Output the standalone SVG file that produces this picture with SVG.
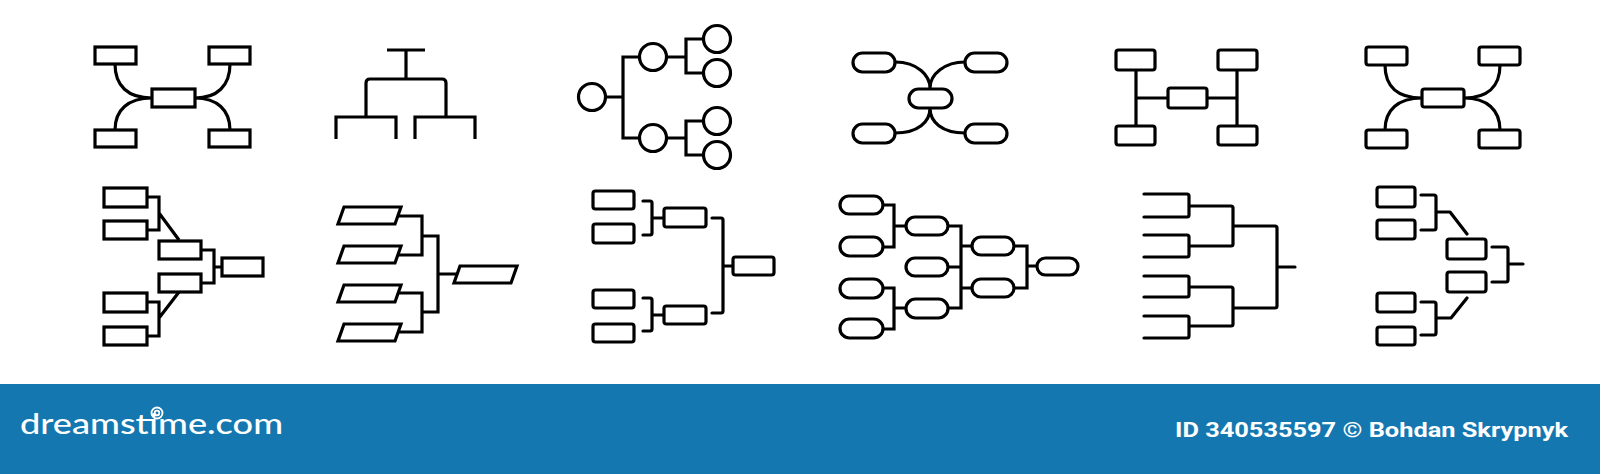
<svg xmlns="http://www.w3.org/2000/svg" width="1600" height="474" viewBox="0 0 1600 474">
<style>
.s{fill:none;stroke:#000;stroke-width:3.2;stroke-linejoin:miter;stroke-linecap:butt}
.r{fill:none;stroke:#000;stroke-width:3.2;stroke-linejoin:round;stroke-linecap:round}
.b{fill:#fff;stroke:#000;stroke-width:3.2}
</style>
<rect width="1600" height="474" fill="#fff"/>

<g id="icon1">
<path class="s" d="M115,64 C115,86 128,98 152,98 M115,130 C115,110 128,98 152,98 M230,64 C230,86 217,98 195,98 M230,130 C230,110 217,98 195,98"/>
<rect class="b" x="95" y="47" width="41" height="17"/>
<rect class="b" x="209" y="47" width="41" height="17"/>
<rect class="b" x="152" y="89" width="43" height="18"/>
<rect class="b" x="95" y="130" width="41" height="17"/>
<rect class="b" x="209" y="130" width="41" height="17"/>
</g>

<g id="icon2">
<path class="s" d="M387,50 H425 M406,50 V79"/>
<path class="r" d="M366,116 V83 Q366,79 370,79 H442 Q446,79 446,83 V116"/>
<path class="s" d="M336,139 V117 H396 V139 M415,139 V117 H475 V139"/>
</g>

<g id="icon3">
<path class="s" d="M606,97 H623 M639,57 H623 V138 H639 M667,57 H686 M703,39 H686 V73 H703 M667,138 H686 M703,121 H686 V155 H703"/>
<circle class="b" cx="592" cy="97" r="13.5"/>
<circle class="b" cx="653" cy="57" r="13.5"/>
<circle class="b" cx="653" cy="138" r="13.5"/>
<circle class="b" cx="717" cy="39" r="13.5"/>
<circle class="b" cx="717" cy="73" r="13.5"/>
<circle class="b" cx="717" cy="121" r="13.5"/>
<circle class="b" cx="717" cy="155" r="13.5"/>
</g>

<g id="icon4">
<path class="s" d="M895,62 C918,62 930,76 930,88 M965,62 C945,62 930,74 930,88 M930,108 C930,122 918,133 895,133 M930,108 C930,122 942,133 965,133"/>
<rect class="b" x="853" y="53" width="42" height="19" rx="9.5"/>
<rect class="b" x="965" y="53" width="42" height="19" rx="9.5"/>
<rect class="b" x="909" y="89" width="43" height="19" rx="9.5"/>
<rect class="b" x="853" y="124" width="42" height="19" rx="9.5"/>
<rect class="b" x="965" y="124" width="42" height="19" rx="9.5"/>
</g>

<g id="icon5">
<path class="s" d="M1136,70 V126 M1237,70 V126 M1136,98 H1168 M1207,98 H1237"/>
<rect class="b" x="1116" y="50" width="39" height="20" rx="2.5"/>
<rect class="b" x="1218" y="50" width="39" height="20" rx="2.5"/>
<rect class="b" x="1168" y="88" width="39" height="20" rx="2.5"/>
<rect class="b" x="1116" y="126" width="39" height="19" rx="2.5"/>
<rect class="b" x="1218" y="126" width="39" height="19" rx="2.5"/>
</g>

<g id="icon6">
<path class="s" d="M1385,65 C1385,87 1398,98 1422,98 M1385,130 C1385,110 1398,98 1422,98 M1500,65 C1500,87 1487,98 1464,98 M1500,130 C1500,110 1487,98 1464,98"/>
<rect class="b" x="1366" y="47" width="41" height="18" rx="2.5"/>
<rect class="b" x="1479" y="47" width="41" height="18" rx="2.5"/>
<rect class="b" x="1422" y="89" width="42" height="18" rx="2.5"/>
<rect class="b" x="1366" y="130" width="41" height="18" rx="2.5"/>
<rect class="b" x="1479" y="130" width="41" height="18" rx="2.5"/>
</g>

<g id="icon7">
<path class="s" d="M147,197 H159 V230 H147 M159,213 L179,240 M147,302 H159 V336 H147 M159,318 L179,292 M201,250 H214 V283 H201 M214,267 H222"/>
<rect class="b" x="104" y="188" width="43" height="19"/>
<rect class="b" x="104" y="221" width="43" height="18"/>
<rect class="b" x="159" y="241" width="42" height="18"/>
<rect class="b" x="159" y="274" width="42" height="18"/>
<rect class="b" x="222" y="258" width="41" height="18"/>
<rect class="b" x="104" y="293" width="43" height="19"/>
<rect class="b" x="104" y="327" width="43" height="18"/>
</g>

<g id="icon8">
<path class="s" d="M398,216 H422 V255 H398 M422,236 H438 V312 H422 M398,293 H422 V332 H398 M438,274 H457"/>
<polygon class="b" points="344,207 401,207 395,224 338,224"/>
<polygon class="b" points="344,246 401,246 395,263 338,263"/>
<polygon class="b" points="344,285 401,285 395,302 338,302"/>
<polygon class="b" points="344,324 401,324 395,341 338,341"/>
<polygon class="b" points="460,266 517,266 511,283 454,283"/>
</g>

<g id="icon9">
<path class="r" d="M643,201 H650 Q652,201 652,203 V233 Q652,235 650,235 H643 M652,218 H664 M643,298 H650 Q652,298 652,300 V329 Q652,331 650,331 H643 M652,315 H664 M712,218 H721 Q723,218 723,220 V311 Q723,313 721,313 H712 M723,266 H733"/>
<rect class="b" x="593" y="191" width="41" height="18" rx="2.5"/>
<rect class="b" x="593" y="224" width="41" height="19" rx="2.5"/>
<rect class="b" x="664" y="208" width="42" height="19" rx="2.5"/>
<rect class="b" x="733" y="257" width="41" height="18" rx="2.5"/>
<rect class="b" x="593" y="290" width="41" height="18" rx="2.5"/>
<rect class="b" x="664" y="306" width="42" height="18" rx="2.5"/>
<rect class="b" x="593" y="324" width="41" height="18" rx="2.5"/>
</g>

<g id="icon10">
<path class="s" d="M883,205 H894 V247 H883 M894,226 H906 M883,288 H894 V329 H883 M894,308 H906 M948,226 H961 V308 H948 M948,267 H961 M961,246 H972 M961,288 H972 M1014,246 H1027 V288 H1014 M1027,266 H1037"/>
<rect class="b" x="840" y="196" width="43" height="18" rx="9"/>
<rect class="b" x="840" y="237" width="43" height="19" rx="9.5"/>
<rect class="b" x="840" y="279" width="43" height="19" rx="9.5"/>
<rect class="b" x="840" y="319" width="43" height="19" rx="9.5"/>
<rect class="b" x="906" y="217" width="42" height="18" rx="9"/>
<rect class="b" x="906" y="258" width="42" height="18" rx="9"/>
<rect class="b" x="906" y="299" width="42" height="19" rx="9.5"/>
<rect class="b" x="972" y="237" width="42" height="18" rx="9"/>
<rect class="b" x="972" y="279" width="42" height="18" rx="9"/>
<rect class="b" x="1037" y="258" width="41" height="17" rx="8.5"/>
</g>

<g id="icon11">
<path class="r" d="M1144,194 H1187 Q1189,194 1189,196 V215 Q1189,217 1187,217 H1144 M1144,235 H1187 Q1189,235 1189,237 V255 Q1189,257 1187,257 H1144 M1189,206 H1231 Q1233,206 1233,208 V244 Q1233,246 1231,246 H1189 M1144,276 H1187 Q1189,276 1189,278 V295 Q1189,297 1187,297 H1144 M1144,316 H1187 Q1189,316 1189,318 V336 Q1189,338 1187,338 H1144 M1189,287 H1231 Q1233,287 1233,289 V324 Q1233,326 1231,326 H1189 M1233,226 H1275 Q1277,226 1277,228 V306 Q1277,308 1275,308 H1233 M1277,267 H1295"/>
</g>

<g id="icon12">
<path class="r" d="M1421,195 H1434 Q1436,195 1436,197 V228 Q1436,230 1434,230 H1421 M1436,212 H1450 L1467,234 M1421,302 H1434 Q1436,302 1436,304 V333 Q1436,335 1434,335 H1421 M1436,318 H1451 L1467,298 M1492,247 H1506 Q1508,247 1508,249 V280 Q1508,282 1506,282 H1492 M1508,264 H1523"/>
<rect class="b" x="1377" y="187" width="38" height="20" rx="2.5"/>
<rect class="b" x="1377" y="220" width="38" height="19" rx="2.5"/>
<rect class="b" x="1447" y="239" width="39" height="20" rx="2.5"/>
<rect class="b" x="1447" y="272" width="39" height="20" rx="2.5"/>
<rect class="b" x="1377" y="293" width="38" height="19" rx="2.5"/>
<rect class="b" x="1377" y="327" width="38" height="18" rx="2.5"/>
</g>

<g id="banner">
<rect x="0" y="384" width="1600" height="90" fill="#1477b0"/>
<g fill="none" stroke="#fff" stroke-width="1.8">
<circle cx="157" cy="413" r="5.5"/>
<circle cx="157" cy="413" r="2.3"/>
</g>
<text x="20" y="434" font-family="Lato, 'Open Sans', sans-serif" font-size="29" font-weight="500" fill="#fff" textLength="263" lengthAdjust="spacingAndGlyphs">dreamstime.com</text>
<text x="1175" y="437" font-family="Roboto, 'Liberation Sans', sans-serif" font-size="21" font-weight="bold" fill="#fff" textLength="393" lengthAdjust="spacingAndGlyphs">ID 340535597 © Bohdan Skrypnyk</text>
</g>
</svg>
